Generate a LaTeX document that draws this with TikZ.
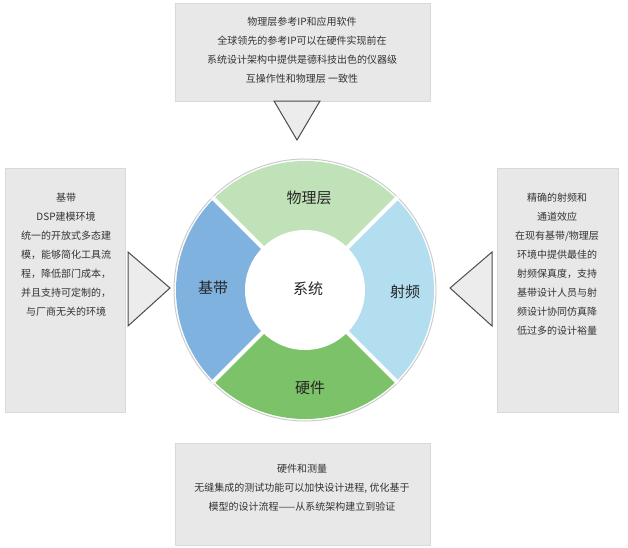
\documentclass[tikz,border=0pt]{standalone}
\usepackage{fontspec}
\setmainfont{Noto Sans CJK SC}
\definecolor{cphy}{RGB}{192,226,184}
\definecolor{crf}{RGB}{178,222,240}
\definecolor{chw}{RGB}{124,194,104}
\definecolor{cbb}{RGB}{128,178,224}
\begin{document}
\begin{tikzpicture}[x=1pt,y=-1pt,
 box/.style={fill=gray!18,draw=gray!30},
 txt/.style={align=center,font=\fontsize{10}{19}\selectfont,text=black!80},
 tri/.style={fill=gray!15,draw=black!70,line width=1pt},
 lab/.style={font=\fontsize{15}{16}\selectfont,text=black!85}]
\useasboundingbox (0,0) rectangle (628,547);
\fill[box] (175,3) rectangle (430,101);
\fill[box] (5,168) rectangle (125,412);
\fill[box] (497,168) rectangle (618,412);
\fill[box] (175,443) rectangle (430,545);
\node[txt] (t) at (302,50) {物理层参考IP和应用软件\\全球领先的参考IP可以在硬件实现前在\\系统设计架构中提供是德科技出色的仪器级\\互操作性和物理层 一致性};
\node[txt] (l) at (66,255) {基带\\DSP建模环境\\统一的开放式多态建\\模，能够简化工具流\\程，降低部门成本，\\并且支持可定制的，\\与厂商无关的环境};
\node[txt] (r) at (557,264) {精确的射频和\\通道效应\\在现有基带/物理层\\环境中提供最佳的\\射频保真度，支持\\基带设计人员与射\\频设计协同仿真降\\低过多的设计裕量};
\node[txt] (b) at (302,488) {硬件和测量\\无缝集成的测试功能可以加快设计进程, 优化基于\\模型的设计流程——从系统架构建立到验证};
\draw[tri] (274,101) -- (320,101) -- (297,140) -- cycle;
\draw[tri] (128,252) -- (170,288) -- (128,326) -- cycle;
\draw[tri] (492,252) -- (450,288) -- (492,326) -- cycle;
\coordinate (c) at (305,290);
\draw[gray!40,line width=1pt] (c) circle (131);
\begin{scope}[shift={(305,290)}]
\fill[cphy] (-135:129) arc[start angle=-135,end angle=-45,radius=129] -- (-45:40) arc[start angle=-45,end angle=-135,radius=40] -- cycle;
\fill[crf] (-45:129) arc[start angle=-45,end angle=45,radius=129] -- (45:40) arc[start angle=45,end angle=-45,radius=40] -- cycle;
\fill[chw] (45:129) arc[start angle=45,end angle=135,radius=129] -- (135:40) arc[start angle=135,end angle=45,radius=40] -- cycle;
\fill[cbb] (135:129) arc[start angle=135,end angle=225,radius=129] -- (225:40) arc[start angle=225,end angle=135,radius=40] -- cycle;
\foreach \a in {45,135,225,315} \draw[white,line width=4pt] (0,0) -- (\a:131);
\fill[white] (0,0) circle (60);
\end{scope}
\node[lab] (s0) at (308,289) {系统};
\node[lab] (s1) at (309,198) {物理层};
\node[lab] (s2) at (405,292) {射频};
\node[lab] (s3) at (310,388) {硬件};
\node[lab] (s4) at (213,288) {基带};
\end{tikzpicture}
\end{document}
